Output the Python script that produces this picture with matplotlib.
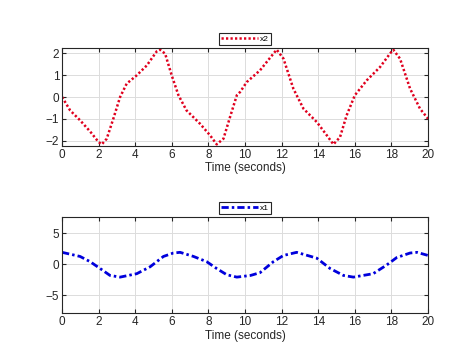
import numpy as np
import matplotlib.pyplot as plt

# values
t2 = [0, 0.44, 0.98, 1.53, 1.99, 2.17, 2.44, 2.8, 3.17, 3.53, 4.08, 4.63, 5.17, 5.35,
      5.63, 5.99, 6.36, 6.8, 7.54, 8.09, 8.45, 8.82, 9.18, 9.55, 9.73, 10.09, 10.82,
      11.55, 11.73, 12.1, 12.64, 13.19, 13.92, 14.47, 14.83, 15.19, 15.55, 16.0, 16.65,
      17.38, 17.92, 18.1, 18.47, 19.02, 19.56, 20.0]
x2 = [0, -0.61, -1.06, -1.57, -2.05, -2.16, -1.9, -0.99, 0.0, 0.61, 0.99, 1.44, 2.08, 2.16,
      1.98, 0.99, 0.08, -0.61, -1.22, -1.75, -2.16, -1.9, -0.91, 0.08, 0.23, 0.68, 1.22,
      1.98, 2.16, 1.75, 0.38, -0.53, -1.14, -1.75, -2.16, -1.83, -0.84, 0.08, 0.76,
      1.37, 1.98, 2.16, 1.75, 0.38, -0.53, -0.99]

t1 = [0, 0.98, 1.53, 2.08, 2.62, 3.17, 4.08, 4.81, 5.54, 6.08, 6.45, 7.18, 7.9, 8.45,
      9.0, 9.55, 10.3, 10.82, 11.55, 12.1, 12.82, 13.92, 14.65, 15.38, 15.92, 17.0,
      17.74, 18.29, 19.02, 19.4, 20.0]
x1 = [1.94, 1.28, 0.44, -0.67, -1.78, -2.05, -1.5, -0.39, 1.28, 1.83, 1.94, 1.28, 0.44,
      -0.67, -1.67, -2.05, -1.78, -1.33, 0.44, 1.44, 1.94, 1.0, -0.67, -1.78, -2.05, -1.5,
      -0.1, 1.1, 1.83, 1.94, 1.44]

xticks = np.arange(0, 21, 2)

plt.rcParams['font.family'] = ['Liberation Sans', 'DejaVu Sans']
plt.rcParams['font.size'] = 8

fig = plt.figure(figsize=(4.74, 3.55), dpi=100)
ax_top = fig.add_axes([0.131, 0.589, 0.772, 0.276])
ax_bot = fig.add_axes([0.131, 0.117, 0.772, 0.273])

def style(ax, ylim, yticks):
    ax.set_xlim(0, 20)
    ax.set_ylim(*ylim)
    ax.set_xticks(xticks)
    ax.set_yticks(yticks)
    ax.grid(True, color='#dcdcdc', linewidth=0.7)
    ax.set_axisbelow(True)
    ax.tick_params(direction='in', top=True, right=True, length=3,
                   color='#262626', labelcolor='#262626', labelsize=8.5, pad=2)
    for s in ax.spines.values():
        s.set_color('#262626')
        s.set_linewidth(0.8)
    ax.set_xlabel('Time (seconds)', color='#262626', fontsize=8.5, labelpad=1)

ax_top.plot(t2, x2, color='#e0001e', linewidth=1.8, dashes=(0.9, 0.9), label='x2')
style(ax_top, (-2.23, 2.24), [-2, -1, 0, 1, 2])

ax_bot.plot(t1, x1, color='#0000dc', linewidth=2, dashes=(2.6, 1.1, 0.9, 1.1), label='x1')
style(ax_bot, (-7.9, 7.7), [-5, 0, 5])

for ax in (ax_top, ax_bot):
    leg = ax.legend(loc='lower center', bbox_to_anchor=(0.5, 1.03), fontsize=6,
                    handlelength=4.4, handletextpad=0.3, borderpad=0.25,
                    borderaxespad=0, fancybox=False, framealpha=1)
    leg.get_frame().set_edgecolor('#262626')
    leg.get_frame().set_linewidth(0.8)

fig.savefig('out.png', dpi=100)
